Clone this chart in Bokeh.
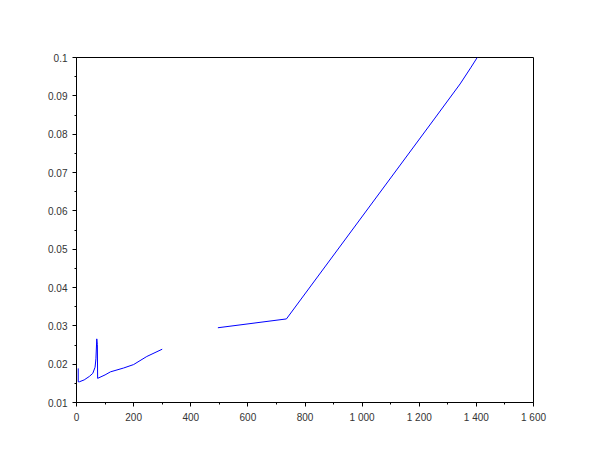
from bokeh.plotting import figure
from bokeh.models import FixedTicker, Range1d
from bokeh.embed import file_html
from bokeh.resources import INLINE

# Data
seg1_x = [6, 6, 10, 27, 45, 57, 65, 68, 71, 73, 74, 100, 119, 165, 200, 246, 300]
seg1_y = [0.0189, 0.0154, 0.0154, 0.0159, 0.0168, 0.0176, 0.0192, 0.0214, 0.0266,
          0.0251, 0.0163, 0.0172, 0.0180, 0.0190, 0.0199, 0.0220, 0.0239]
seg2_x = [495, 735, 1255, 1343, 1380, 1403]
seg2_y = [0.0295, 0.0318, 0.0842, 0.0931, 0.0973, 0.1000]

x_ticks = [0, 200, 400, 600, 800, 1000, 1200, 1400, 1600]
x_tick_labels = ["0", "200", "400", "600", "800", "1 000", "1 200", "1 400", "1 600"]
x_minor = [100, 300, 500, 700, 900, 1100, 1300, 1500]
y_ticks = [0.01, 0.02, 0.03, 0.04, 0.05, 0.06, 0.07, 0.08, 0.09, 0.1]
y_tick_labels = ["0.01", "0.02", "0.03", "0.04", "0.05", "0.06", "0.07", "0.08", "0.09", "0.1"]
y_minor = [0.015, 0.025, 0.035, 0.045, 0.055, 0.065, 0.075, 0.085, 0.095]

p = figure(frame_width=457, frame_height=345, output_backend="svg", toolbar_location=None,
           x_range=Range1d(0, 1600), y_range=Range1d(0.01, 0.1),
           min_border_left=76, min_border_top=57, min_border_right=61, min_border_bottom=42)
p.background_fill_color = "white"
p.border_fill_color = "white"
p.outline_line_color = "black"
p.outline_line_width = 1
p.outline_line_alpha = 1
p.grid.visible = False

p.line(seg1_x, seg1_y, line_color="blue", line_width=1)
p.line(seg2_x, seg2_y, line_color="blue", line_width=1)

p.xaxis.ticker = FixedTicker(ticks=x_ticks, minor_ticks=x_minor)
p.yaxis.ticker = FixedTicker(ticks=y_ticks, minor_ticks=y_minor)
p.xaxis.major_label_overrides = {t: l for t, l in zip(x_ticks, x_tick_labels)}
p.yaxis.major_label_overrides = {t: l for t, l in zip(y_ticks, y_tick_labels)}

for ax in (p.xaxis, p.yaxis):
    ax.axis_line_color = "black"
    ax.major_tick_line_color = "black"
    ax.minor_tick_line_color = "black"
    ax.major_tick_in = 0
    ax.major_tick_out = 4
    ax.minor_tick_in = 0
    ax.minor_tick_out = 2
    ax.major_label_text_font = "Liberation Sans"
    ax.major_label_text_font_size = "10px"
    ax.major_label_text_color = "#333333"
    ax.major_label_standoff = 5

out = file_html(p, INLINE)
open("out.html", "w").write(out)
